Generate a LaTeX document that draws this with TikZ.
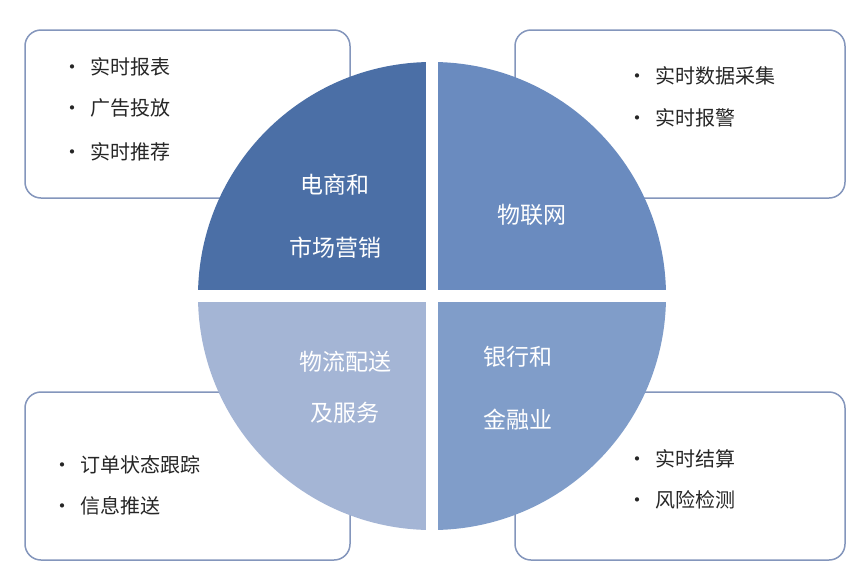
\documentclass[tikz,border=0pt]{standalone}
\usepackage{fontspec}
\setmainfont{Noto Sans CJK SC}
\begin{document}
\begin{tikzpicture}[x=1pt,y=-1pt,
 box/.style={draw=boxc,line width=1.5pt,rounded corners=16pt,fill=white},
 item/.style={anchor=west,font=\fontsize{20}{24}\selectfont,text=black!85,inner sep=0pt},
 big/.style={font=\fontsize{23}{28}\selectfont,text=white,inner sep=0pt}]
\definecolor{boxc}{HTML}{8496BC}
\definecolor{qa}{HTML}{4B6FA6}
\definecolor{qb}{HTML}{6A8BBF}
\definecolor{qc}{HTML}{A4B5D5}
\definecolor{qd}{HTML}{809DC9}
\useasboundingbox (0,0) rectangle (866,576);
\fill[white] (0,0) rectangle (866,576);
\draw[box] (25,30) rectangle (350,198);
\draw[box] (515,30) rectangle (845,198);
\draw[box] (25,392) rectangle (350,560);
\draw[box] (515,392) rectangle (845,560);
\begin{scope}
\clip (432,296) circle (234);
\fill[qa] (150,0) rectangle (426,290);
\fill[qb] (438,0) rectangle (700,290);
\fill[qc] (150,302) rectangle (426,600);
\fill[qd] (438,302) rectangle (700,600);
\end{scope}
\node[big] (a1) at (335,185) {电商和};
\node[big] (a2) at (335,248) {市场营销};
\node[big] (b1) at (532,215) {物联网};
\node[big] (c1) at (345,362) {物流配送};
\node[big] (c2) at (345,413) {及服务};
\node[big] (d1) at (518,357) {银行和};
\node[big] (d2) at (518,420) {金融业};
\node[item] (t1) at (62,67) {•\hspace{8pt}实时报表};
\node[item] (t2) at (62,108) {•\hspace{8pt}广告投放};
\node[item] (t3) at (62,152) {•\hspace{8pt}实时推荐};
\node[item] (r1) at (627,76) {•\hspace{8pt}实时数据采集};
\node[item] (r2) at (627,118) {•\hspace{8pt}实时报警};
\node[item] (l1) at (52,465) {•\hspace{8pt}订单状态跟踪};
\node[item] (l2) at (52,506) {•\hspace{8pt}信息推送};
\node[item] (s1) at (627,459) {•\hspace{8pt}实时结算};
\node[item] (s2) at (627,500) {•\hspace{8pt}风险检测};
\end{tikzpicture}
\end{document}
